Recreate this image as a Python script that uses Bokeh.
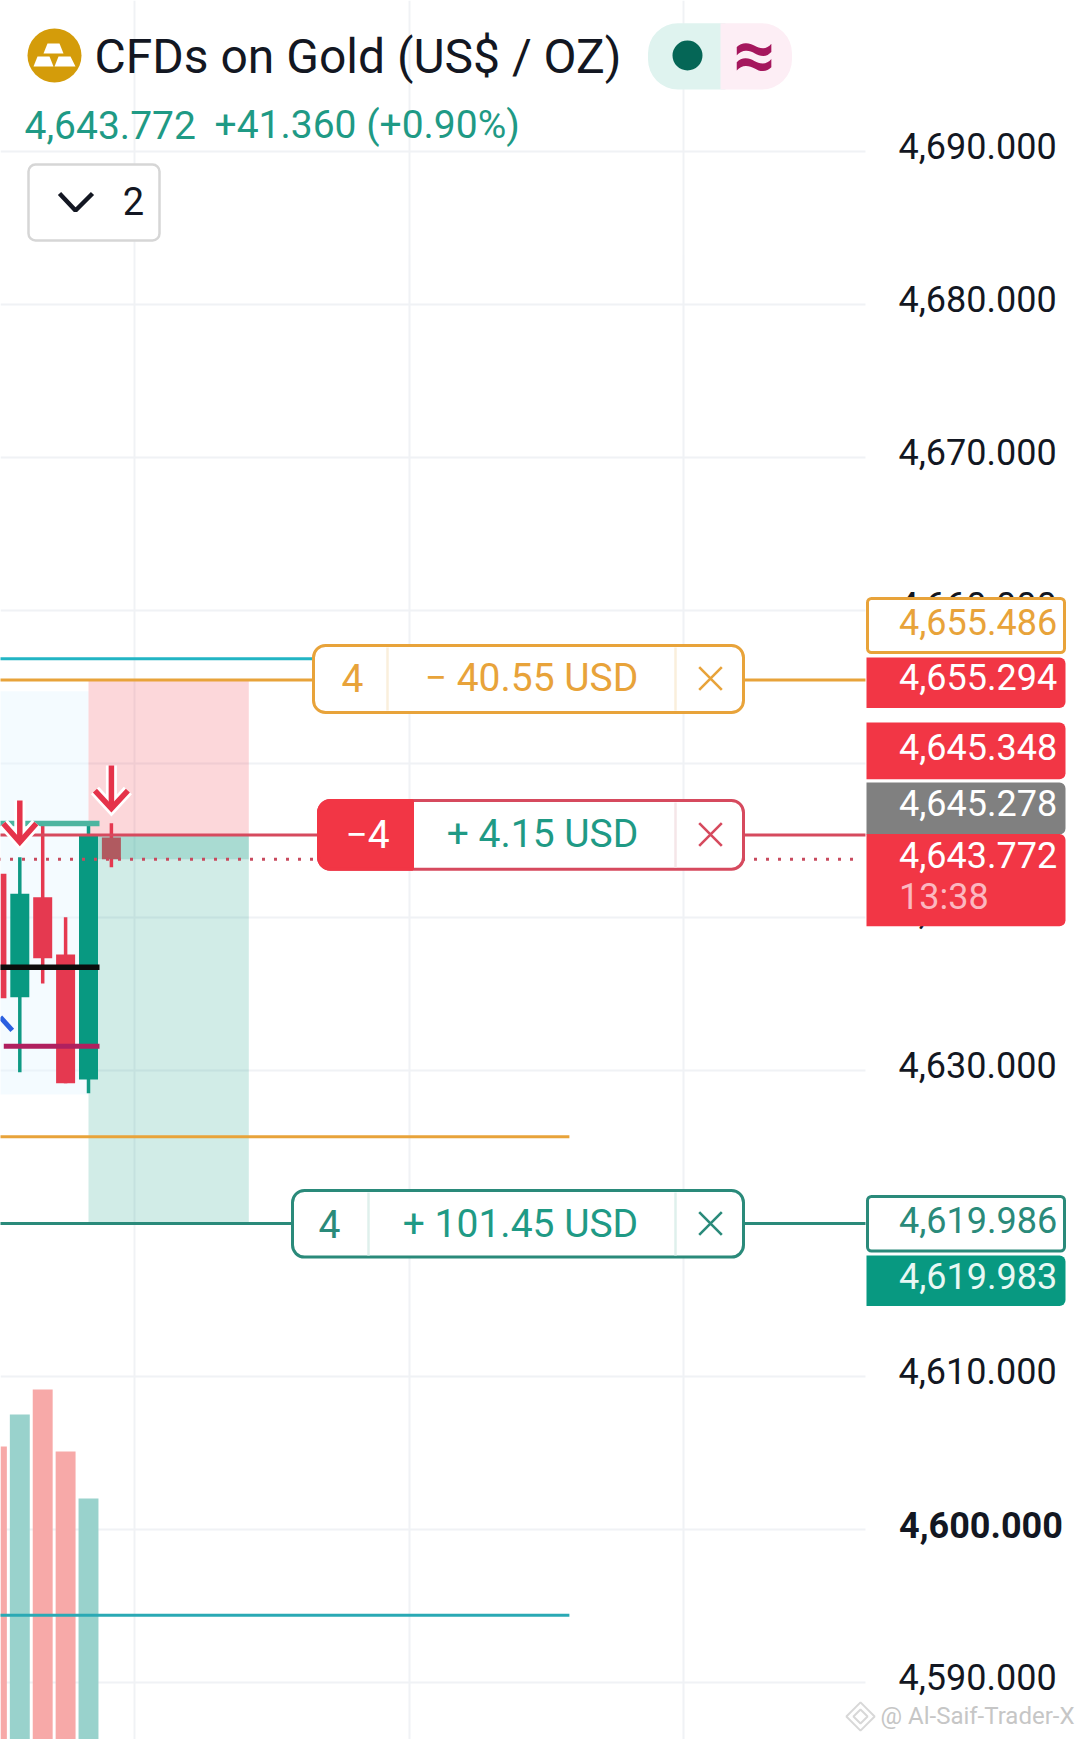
from bokeh.plotting import figure
from bokeh.models import Range1d, FixedTicker, Grid, Label, BoxAnnotation, LinearAxis
from bokeh.embed import file_html
from bokeh.resources import INLINE

# ---------- data ----------
tick_prices = [4690, 4680, 4670, 4660, 4650, 4640, 4630, 4620, 4610, 4600, 4590]
tick_labels = ["4,690.000", "4,680.000", "4,670.000", "4,660.000", "4,650.000", "4,640.000",
               "4,630.000", "4,620.000", "4,610.000", "4,600.000", "4,590.000"]
time_grid_bars = [5, 17, 29]

bar_index = [-1, 0, 1, 2, 3, 4]
bar_open  = [4642.82, 4634.76, 4641.29, 4637.55, 4629.39, 4645.20]
bar_close = [4634.70, 4641.52, 4637.31, 4629.15, 4645.32, 4643.772]
bar_high  = [4644.00, 4643.91, 4646.11, 4639.99, 4646.11, 4646.13]
bar_low   = [4632.00, 4629.86, 4635.66, 4629.15, 4628.49, 4643.25]
volumes   = [293, 325, 350, 288, 241]

entry_price = 4645.348
last_price = 4643.772
stop_price = 4655.486
target_price = 4619.986
level_upper_teal = 4656.87
level_gold = 4625.64
level_lower_teal = 4594.40
level_pale_teal = 4646.10
level_black = 4636.72
level_magenta = 4631.56

# ---------- figure ----------
UP, DOWN = "#089981", "#f23645"
CANDLE_DOWN = "#e53950"
TXT = "#131722"
FONT = "Roboto"
Y_TOP, Y_BOT = 4699.86, 4586.28
p = figure(width=1080, height=1739, output_backend="svg", toolbar_location=None,
           x_axis_location=None, y_axis_location=None,
           x_range=Range1d(-0.843, 46.32), y_range=Range1d(Y_BOT, Y_TOP),
           min_border_left=0, min_border_right=0, min_border_top=0, min_border_bottom=0)
p.outline_line_color = None
p.background_fill_color = "white"
p.grid.visible = False
p.extra_x_ranges["px"] = Range1d(0, 1080)
p.extra_y_ranges["px"] = Range1d(1739, 0)
p.extra_y_ranges["vol"] = Range1d(0, 1739)
p.extra_y_ranges["labels"] = Range1d(Y_BOT - 0.36, Y_TOP - 0.36)

ax = LinearAxis(y_range_name="labels")
ax.ticker = FixedTicker(ticks=tick_prices)
ax.major_label_overrides = {t: ("" if t == 4600 else s) for t, s in zip(tick_prices, tick_labels)}
ax.axis_line_color = None
ax.major_tick_line_color = None
ax.minor_tick_line_color = None
ax.major_label_standoff = -188
ax.major_label_text_font = FONT
ax.major_label_text_font_size = "36px"
ax.major_label_text_color = TXT
p.add_layout(ax, "right")

GRID = "#f0f2f5"
p.add_layout(Grid(dimension=1, ticker=FixedTicker(ticks=tick_prices), grid_line_color=GRID, grid_line_width=2))
p.add_layout(Grid(dimension=0, ticker=FixedTicker(ticks=time_grid_bars), grid_line_color=GRID, grid_line_width=2))

PX = dict(x_range_name="px", y_range_name="px")

# price-scale panel hides the grid
p.quad(left=865, right=1080, top=0, bottom=1739, fill_color="white", line_color=None, **PX)

# zones
p.quad(left=-2, right=3, top=4654.75, bottom=4628.4, fill_color="#e5f6ff", fill_alpha=0.42, line_color=None)
p.quad(left=3, right=10, top=stop_price, bottom=entry_price, fill_color=DOWN, fill_alpha=0.2, line_color=None)
p.quad(left=3, right=10, top=entry_price, bottom=target_price, fill_color=UP, fill_alpha=0.19, line_color=None)
p.quad(left=3.4, right=10, top=entry_price, bottom=last_price, fill_color=UP, fill_alpha=0.2, line_color=None)

# volume
vol_x = bar_index[:5]
vol_col = ["#f7a9a8" if c < o else "#99d2cc" for o, c in zip(bar_open, bar_close)][:5]
p.vbar(x=vol_x, width=0.87, top=volumes, bottom=0, fill_color=vol_col, line_color=None, y_range_name="vol")

# candles
cols = [CANDLE_DOWN if c < o else UP for o, c in zip(bar_open, bar_close)]
cols[-1] = "#b05a60"
wick = [CANDLE_DOWN if c < o else "#0f9a84" for o, c in zip(bar_open, bar_close)]
p.segment(x0=bar_index, x1=bar_index, y0=bar_low, y1=bar_high, line_color=wick, line_width=3.5)
p.vbar(x=bar_index, width=0.83, top=[max(a, b) for a, b in zip(bar_open, bar_close)],
       bottom=[min(a, b) for a, b in zip(bar_open, bar_close)], fill_color=cols, line_color=None)

# drawn levels
RIGHT = 36.93
p.line([-2, 24], [level_upper_teal] * 2, line_color="#22b5c4", line_width=3)
p.line([-2, RIGHT], [stop_price] * 2, line_color="#e8a33a", line_width=3)
p.line([-2, RIGHT], [entry_price] * 2, line_color="#d64a5e", line_width=3)
p.line([-2, 36.5], [last_price] * 2, line_color="#c84a5e", line_width=3, line_dash="3 9")
p.line([-2, RIGHT], [target_price] * 2, line_color="#2a8a7a", line_width=3)
p.line([-2, 24], [level_gold] * 2, line_color="#e8a33a", line_width=3)
p.line([-2, 24], [level_lower_teal] * 2, line_color="#2aa9b4", line_width=3)
p.line([-2, 3.48], [level_pale_teal] * 2, line_color="#4db5a0", line_width=5.5)
p.line([-2, 3.48], [level_black] * 2, line_color="#0c0c0c", line_width=5.5)
p.line([-0.7, 3.48], [level_magenta] * 2, line_color="#b0205f", line_width=5)
p.line([-0.85, -0.33], [4633.46, 4632.59], line_color="#2a5fe0", line_width=5)

# down arrows
arrow_bar = [0, 4]
arrow_top = [4647.61, 4649.90]
arrow_arm = [4646.11, 4648.26]
arrow_tip = [4644.89, 4647.09]
for col, w in (("white", 11), ("#e5334a", 5.5)):
    for b, t, a, e in zip(arrow_bar, arrow_top, arrow_arm, arrow_tip):
        p.line([b, b], [t, e], line_color=col, line_width=w)
        p.line([b - 0.72, b, b + 0.72], [a, e, a], line_color=col, line_width=w, line_join="miter")

# helpers for chrome, placed in page pixels through the "px" ranges
def box(l, r, t, b, fill="white", line=None, lw=3, radius=12, alpha=1.0):
    a = BoxAnnotation(left=l, right=r, top=t, bottom=b, fill_color=fill, fill_alpha=alpha,
                      line_color=line, line_width=lw, line_alpha=1.0 if line else 0,
                      border_radius=radius, level="annotation", **PX)
    p.add_layout(a)
    return a

def txt(x, y, s, color=TXT, size=36, align="left", bold=False, font=FONT):
    p.add_layout(Label(x=x, y=y, text=s, text_color=color, text_font_size=f"{size}px",
                       text_font=font, text_font_style="bold" if bold else "normal",
                       text_align=align, text_baseline="middle", level="overlay", **PX))

# order boxes
GOLD, RED_LN, GRN_LN, GRN_TXT = "#e8a33a", "#d64a5e", "#2a8a7a", "#1f9a85"
box(313, 743, 645, 712, line=GOLD)
box(318, 743, 800, 868.7, line=RED_LN)
box(318, 412, 800, 868.7, fill=DOWN, line=DOWN, radius=(12, 0, 0, 12))
box(292, 743, 1190, 1256.6, line=GRN_LN)
p.segment(x0=[387, 675, 675, 368, 675], x1=[387, 675, 675, 368, 675],
          y0=[647, 647, 802, 1192, 1192], y1=[710, 710, 867, 1255, 1255],
          line_color=["#faefdc", "#faefdc", "#f5e6e8", "#dff0ec", "#dff0ec"], line_width=2.5, level="overlay", **PX)
p.scatter(x=[710, 710, 710], y=[678, 834, 1223], marker="x", size=32, line_width=2.6,
          line_color=[GOLD, RED_LN, GRN_LN], level="overlay", **PX)
txt(352, 677.5, "4", GOLD, 39, align="center")
txt(531, 677.5, "− 40.55 USD", GOLD, 39, align="center")
txt(367, 833.5, "−4", "white", 39, align="center")
txt(542, 833.5, "+ 4.15 USD", GRN_TXT, 39, align="center")
txt(329, 1223, "4", GRN_LN, 39, align="center")
txt(520, 1223, "+ 101.45 USD", GRN_TXT, 39, align="center")

# price badges
R = (0, 6, 6, 0)
LX = 898.5
box(867, 1064, 598, 652, line=GOLD, lw=3, radius=4)
box(866, 1065, 657, 707.5, fill=DOWN, radius=R)
box(866, 1065, 722, 778.7, fill=DOWN, radius=R)
box(866, 1065, 782, 834, fill="#808080", radius=R)
box(866, 1065, 833.5, 925.7, fill=DOWN, radius=R)
box(867, 1064, 1196, 1250.5, line=GRN_LN, lw=3, radius=4)
box(866, 1065, 1255, 1305.5, fill=UP, radius=R)
txt(LX, 621.5, "4,655.486", GOLD)
txt(LX, 676.5, "4,655.294", "white")
txt(LX, 746.5, "4,645.348", "white")
txt(LX, 802.5, "4,645.278", "white")
txt(LX, 854.5, "4,643.772", "white")
txt(LX, 896.5, "13:38", "#fbb8c0")
txt(LX, 1219.5, "4,619.986", GRN_LN)
txt(LX, 1275, "4,619.983", "#e8f8f4")
txt(LX, 1524, tick_labels[tick_prices.index(4600)], TXT, 36, bold=True)

# header
p.scatter(x=[54], y=[55], marker="circle", size=54, fill_color="#d49c0a", line_color=None, **PX)
p.patches(xs=[[47, 59, 63, 43], [37, 49, 53, 33], [58, 70, 75, 54]],
          ys=[[43, 43, 53, 53], [56, 56, 66, 66], [56, 56, 66, 66]],
          fill_color="white", line_color=None, **PX)
txt(94, 56, "CFDs on Gold (US$ / OZ)", "#131722", 48)
txt(24, 124, "4,643.772", GRN_TXT, 39)
txt(214, 124, "+41.360 (+0.90%)", GRN_TXT, 39)
box(647.5, 725, 22.7, 89, fill="#dff3ef", radius=(30, 0, 0, 30))
box(720, 791.5, 22.7, 89, fill="#fdeef5", radius=(0, 30, 30, 0))
p.scatter(x=[687], y=[55], marker="circle", size=30, fill_color="#056656", line_color=None, level="overlay", **PX)
txt(754, 54, "≈", "#a5175d", 74, align="center", bold=True)
box(28, 159, 164, 240, line="#d6d6d6", lw=2.5, radius=7)
p.line([59, 75, 92], [193, 210, 193], line_color=TXT, line_width=4.5, level="overlay", **PX)
txt(133, 200, "2", TXT, 38, align="center")

# watermark
p.scatter(x=[860, 860], y=[1716, 1716], marker="square", angle=0.785, size=[20, 10], fill_color=None,
          line_color="#d8d8d8", line_width=2, level="overlay", **PX)
txt(880, 1715, "@ Al-Saif-Trader-X", "#c6c6c6", 24)

open("out.html", "w").write(file_html(p, INLINE))
